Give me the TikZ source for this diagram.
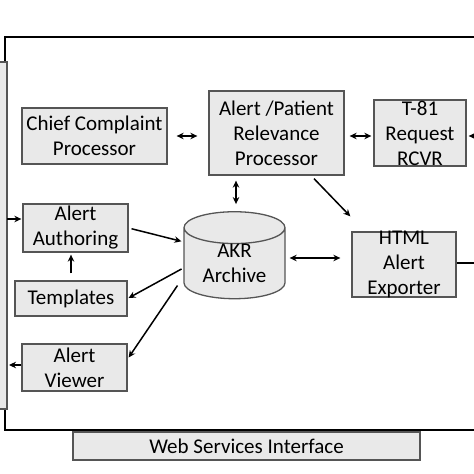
\documentclass[tikz,border=0pt]{standalone}
\usepackage{fontspec}
\setmainfont{Carlito}
\usetikzlibrary{arrows.meta,shapes.geometric,calc}

\definecolor{boxfill}{RGB}{233,233,233}
\definecolor{boxline}{RGB}{85,85,85}

\begin{document}
\begin{tikzpicture}[x=1pt,y=-1pt,
    lbl/.style={align=center,font=\fontsize{21}{25}\selectfont},
    txt/.style={lbl,draw=none,fill=none},
    box/.style={draw=boxline,fill=boxfill,line width=1.3pt,inner sep=0pt}]

  \clip (0,0) rectangle (474,474);

  % outer frame and side panel
  \draw[line width=2pt] (5,37) rectangle (490,430);
  \draw[box] (-20,62) rectangle (7,409);

  \coordinate (rin)  at (480,136);
  \coordinate (rout) at (480,263);
  \coordinate (lin)  at (7,219);
  \coordinate (lout) at (7,365);

  \begin{scope}[every node/.style={box}]
    \node[minimum width=145pt,minimum height=56pt,
      label={[txt]center:Chief Complaint\\Processor}] (cc) at (94.5,136) {};
    \node[minimum width=135pt,minimum height=84pt,
      label={[txt]center:Alert /Patient\\Relevance\\Processor}] (arp) at (276.5,133) {};
    \node[minimum width=92pt,minimum height=66pt,
      label={[txt]center:T-81\\Request\\RCVR}] (t81) at (420,133) {};
    \node[minimum width=104pt,minimum height=65pt,
      label={[txt]center:HTML\\Alert\\Exporter}] (html) at (404,264.5) {};
    \node[minimum width=105pt,minimum height=48pt,
      label={[txt]center:Alert\\Authoring}] (auth) at (75.5,228) {};
    \node[minimum width=112pt,minimum height=35pt,
      label={[txt]center:Templates}] (tmpl) at (71,298.5) {};
    \node[minimum width=105pt,minimum height=47pt,
      label={[txt]center:Alert\\Viewer}] (view) at (74.5,367.5) {};
    \node[minimum width=347pt,minimum height=28pt,
      label={[txt]center:Web Services Interface}] (ws) at (246.5,446) {};
    \node[cylinder,shape border rotate=90,aspect=0.5,lbl,
      minimum width=101pt,minimum height=82pt] (akr) at (234.5,263.5) {AKR\\Archive};
  \end{scope}

  \begin{scope}[line width=1.5pt,>={Stealth[length=7pt,width=6.5pt]}]
    \path (cc.east) edge[<->,shorten <=9pt,shorten >=11pt] (cc.east -| arp.west);
    \path (arp.east |- cc.east) edge[<->,shorten <=5pt,shorten >=2pt] (t81.west |- cc.east);
    \path (rin) edge[->,shorten >=2pt] (t81.east |- rin);
    \path ([xshift=-40.5pt]arp.south) edge[<->,shorten <=5pt,shorten >=7pt] ([xshift=-40.5pt]arp.south |- akr.north);
    \path ($(arp.south)+(37.5,3)$) edge[->] ($(html.north west)+(-1,-15)$);
    \path ([yshift=5.5pt]akr.east) edge[<->,shorten <=4pt,shorten >=11pt] ([yshift=5.5pt]akr.east -| html.west);
    \path (html.east |- rout) edge (rout);
    \path (auth.east) edge[->,shorten <=3pt,shorten >=2pt] (akr.157);
    \path (tmpl.north) edge[->,shorten <=7pt,shorten >=2pt] (tmpl.north |- auth.south);
    \path (akr.185) edge[->,shorten <=2pt,shorten >=1pt] (tmpl.east);
    \path ($(akr.center)+(-57,22)$) edge[->] ($(view.east)+(1,-10)$);
    \path (lin) edge[->,shorten >=1pt] (lin -| auth.west);
    \path (view.west |- lout) edge[->,shorten >=2pt] (lout);
  \end{scope}

\end{tikzpicture}
\end{document}
